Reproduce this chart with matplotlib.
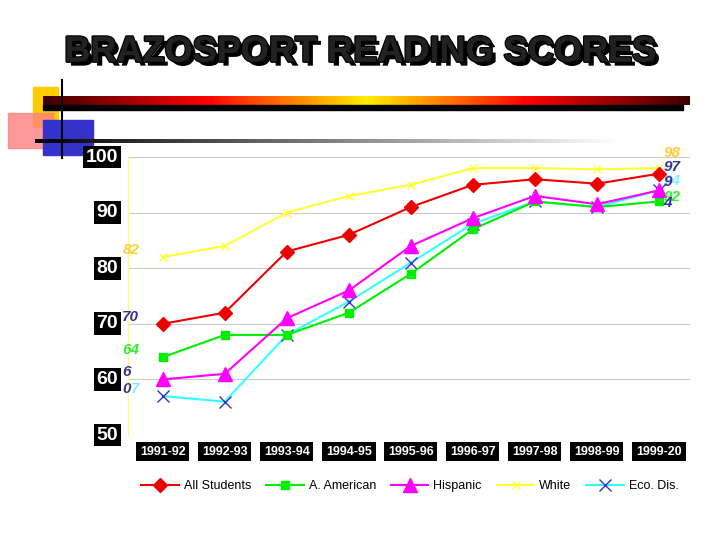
import matplotlib
matplotlib.use("Agg")
import matplotlib.pyplot as plt
import matplotlib.patheffects as pe
import numpy as np

years = ["1991-92","1992-93","1993-94","1994-95","1995-96","1996-97","1997-98","1998-99","1999-20"]
all_students = [70,72,83,86,91,95,96,95.2,97]
a_american = [64,68,68,72,79,87,92,91,92]
hispanic = [60,61,71,76,84,89,93,91.5,94]
white = [82,84,90,93,95,98,98,97.8,98]
eco_dis = [57,56,68,74,81,88,92,91,94]
yticks = [50,60,70,80,90,100]

fig = plt.figure(figsize=(7.2,5.4), dpi=100)
W, H = 720, 540
def fx(x): return x/W
def fy(y): return 1-y/H

# decorations
deco = fig.add_axes([0,0,1,1]); deco.set_xlim(0,W); deco.set_ylim(H,0); deco.axis('off')
deco.add_patch(plt.Rectangle((33,87),25,40,color='#ffcc00'))
deco.add_patch(plt.Rectangle((8,113),45,35,color='#ff8080',alpha=0.8))
deco.add_patch(plt.Rectangle((43,120),50,35,color='#3333cc'))
grad = np.linspace(0,1,300)
from matplotlib.colors import LinearSegmentedColormap
cm = LinearSegmentedColormap.from_list('g',['#400000','#ff0000','#ffee00','#ff0000','#400000'])
deco.imshow(grad[None,:],extent=(43,690,105,96),cmap=cm,aspect='auto',zorder=2)
deco.add_patch(plt.Rectangle((43,105),640,5,color='black',zorder=2))
cm2 = LinearSegmentedColormap.from_list('g2',['#000000','#ffffff'])
deco.imshow(grad[None,:],extent=(35,620,143,139),cmap=cm2,aspect='auto',zorder=2)
deco.plot([62,62],[80,158],color='black',lw=1.5,zorder=3)
deco.set_xlim(0,W); deco.set_ylim(H,0)
deco.text(360,52,"BRAZOSPORT READING SCORES",ha='center',va='center',fontsize=26,
          fontweight='bold',family='Liberation Sans',color='#222222',
          path_effects=[pe.withSimplePatchShadow(offset=(3,-3),shadow_rgbFace='black',alpha=1),pe.withStroke(linewidth=2,foreground='black'),pe.Normal()])

ax = fig.add_axes([fx(128),fy(435),fx(690-128),(435-157)/H])
x = np.arange(len(years))
ax.plot(x,white,color='#ffff33',marker='x',ms=6,lw=1.5,label='White')
ax.plot(x,eco_dis,color='#33ffff',marker='x',ms=9,mec='#3333cc',lw=1.5,label='Eco. Dis.')
ax.plot(x,a_american,color='#00ee00',marker='s',ms=6,lw=1.5,label='A. American')
ax.plot(x,hispanic,color='#ff00ff',marker='^',ms=10,lw=1.5,label='Hispanic')
ax.plot(x,all_students,color='#ee0000',marker='D',ms=7,lw=1.5,label='All Students')
ax.set_xlim(-0.56,8.5); ax.set_ylim(50,100)
ax.set_yticks(yticks); ax.set_yticklabels([])
ax.set_xticks(x); ax.set_xticklabels([])
ax.grid(axis='y',color='#cccccc',lw=0.8)
for s in ['top','right','bottom']: ax.spines[s].set_visible(False)
ax.spines['left'].set_color('#ffff66')
ax.tick_params(length=0)
for v in yticks:
    ax.text(-0.72,v,str(v),transform=ax.transData,ha='right',va='center',color='white',
            fontsize=14,fontweight='bold',family='Liberation Sans',
            bbox=dict(boxstyle='square,pad=0.15',fc='black',ec='none'))
for i,l in enumerate(years):
    ax.text(i,47,l,ha='center',va='center',color='white',fontsize=9,fontweight='bold',
            family='Liberation Sans',bbox=dict(boxstyle='square,pad=0.3',fc='black',ec='none'),clip_on=False)
lab = dict(fontsize=11,fontweight='bold',style='italic',family='Liberation Sans',clip_on=False)
ax.text(-0.65,82,"82",color='#ffcc33',ha='left',va='bottom',**lab)
ax.text(-0.65,70,"70",color='#333399',ha='left',va='bottom',**lab)
ax.text(-0.65,64,"64",color='#33ee33',ha='left',va='bottom',**lab)
ax.text(-0.65,60,"6",color='#333399',ha='left',va='bottom',**lab)
ax.text(-0.65,57,"0",color='#333399',ha='left',va='bottom',**lab)
ax.text(-0.52,57,"7",color='#88eeff',ha='left',va='bottom',**lab)
ax.text(8.07,99.5,"98",color='#ffcc33',ha='left',va='bottom',**lab)
ax.text(8.07,97,"97",color='#333399',ha='left',va='bottom',**lab)
ax.text(8.07,94.5,"94",color='#88eeff',ha='left',va='bottom',**lab)
ax.text(8.07,94.2,"9",color='#333399',ha='left',va='bottom',**lab)
ax.text(8.07,91.6,"92",color='#33ee33',ha='left',va='bottom',**lab)
ax.text(8.07,90.5,"4",color='#333399',ha='left',va='bottom',**lab)

h,l = ax.get_legend_handles_labels()
order = [4,2,3,0,1]
fig.legend([h[i] for i in order],[l[i] for i in order],loc='center',bbox_to_anchor=(fx(410),fy(486)),
           ncol=5,frameon=False,fontsize=9,prop={'family':'Liberation Sans','size':9},
           handlelength=3,columnspacing=1.2,handletextpad=0.4)
fig.savefig("out.png",dpi=100)
